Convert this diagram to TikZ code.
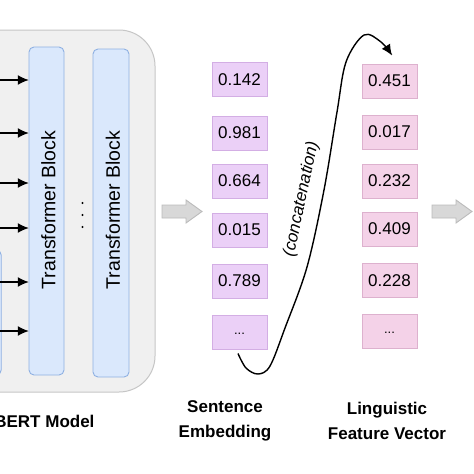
\documentclass[tikz,border=0pt]{standalone}
\usepackage{fontspec}
\setmainfont{Liberation Sans}
\usetikzlibrary{arrows.meta}
\definecolor{contfill}{HTML}{F0F0F0}
\definecolor{contdraw}{HTML}{C6C6C6}
\definecolor{blkfill}{HTML}{DAE8FC}
\definecolor{blkdraw}{HTML}{8EB0E2}
\definecolor{sefill}{HTML}{EBD0F7}
\definecolor{sedraw}{HTML}{D3AEE4}
\definecolor{lffill}{HTML}{F4D2E8}
\definecolor{lfdraw}{HTML}{DDB1CE}
\definecolor{garfill}{HTML}{D8D8D8}
\definecolor{gardraw}{HTML}{BBBBBB}
\tikzset{
  tblock/.style={draw=blkdraw, fill=blkfill, line width=0.9pt, rounded corners=5pt},
  sebox/.style={draw=sedraw, fill=sefill, line width=1pt, minimum width=55pt, minimum height=34pt, inner sep=0pt, font=\fontsize{17}{20}\selectfont},
  lfbox/.style={draw=lfdraw, fill=lffill, line width=1pt, minimum width=55pt, minimum height=34pt, inner sep=0pt, font=\fontsize{17}{20}\selectfont},
  blocklabel/.style={rotate=90, font=\fontsize{19.5}{22}\selectfont},
  caption/.style={font=\fontsize{17}{25}\selectfont\bfseries, align=center},
  inarrow/.style={-{Latex[length=11pt,width=10pt]}, line width=1.4pt, black},
  garrow/.style={draw=gardraw, fill=garfill, line width=0.9pt, line join=miter}
}
\begin{document}
\begin{tikzpicture}[x=1pt,y=-1pt]
\useasboundingbox (0,0) rectangle (474,474);
\fill[white] (0,0) rectangle (474,474);
% container
\draw[draw=contdraw, fill=contfill, line width=1pt, rounded corners=36pt] (-60,30) rectangle (155,392);
% partially visible blue block at left edge
\draw[tblock] (-40,250) rectangle (1.2,375);
% transformer blocks
\draw[tblock] (29,47) rectangle (64,375);
\node[inner sep=0pt, minimum width=35pt, minimum height=328pt] (tb1) at (46.5,211) {};
\draw[tblock] (93,49) rectangle (129,377);
\node[inner sep=0pt, minimum width=36pt, minimum height=328pt] (tb2) at (111,213) {};
\node[blocklabel] (tl1) at (48.5,210) {Transformer Block};
\node[blocklabel] (tl2) at (113,210) {Transformer Block};
% vertical dots
\foreach \yy in {203,215,227} \fill (82.5,\yy) circle (1.2pt);
% input arrows
\foreach \yy [count=\i] in {80,133,183,228,282,331} {
  \coordinate (in\i) at (-4,\yy);
  \draw[inarrow] (in\i) -- (in\i -| tb1.west);
}
\node[caption, anchor=east] (bert) at (98,421) {BERT Model};
% gray block arrows
\coordinate (ga1) at (162,211.5);
\coordinate (ga2) at (432,211.5);
\foreach \g in {ga1,ga2}
  \draw[garrow] (\g) ++(0,-6.5) -- ++(24,0) -- ++(0,-5) -- ++(16,11.5) -- ++(-16,11.5) -- ++(0,-5) -- ++(-24,0) -- cycle;
% sentence embedding
\node[sebox] (e1) at (239.5,79.5) {0.142};
\node[sebox] (e2) at (239.5,133) {0.981};
\node[sebox] (e3) at (239.5,181) {0.664};
\node[sebox] (e4) at (239.5,230) {0.015};
\node[sebox] (e5) at (239.5,281) {0.789};
\node[sebox] (e6) at (239.5,332) {\raisebox{-4pt}{\fontsize{13}{15}\selectfont...}};
% linguistic features
\node[lfbox] (l1) at (389.5,81) {0.451};
\node[lfbox] (l2) at (389.5,132) {0.017};
\node[lfbox] (l3) at (389.5,181) {0.232};
\node[lfbox] (l4) at (389.5,229) {0.409};
\node[lfbox] (l5) at (389.5,280.5) {0.228};
\node[lfbox] (l6) at (389.5,331.5) {\raisebox{-4pt}{\fontsize{13}{15}\selectfont...}};
% captions
\node[caption] (cse) at (225,421) {Sentence\\Embedding};
\node[caption] (clf) at (387,421) {Linguistic\\Feature Vector};
% concatenation curve
\draw[line width=1.4pt, -{Latex[length=11pt,width=10pt]}]
  plot[smooth, tension=0.55] coordinates {
    ([xshift=-1.5pt,yshift=-4pt]e6.south) (246,368) (258,374) (270,366) (285,328)
    (307,267) (324,190) (337,112) (346,62) (364,35) (381,42)
    ([xshift=2.5pt,yshift=8pt]l1.north)};
\node[rotate=78, font=\fontsize{17}{20}\selectfont\itshape] (concat) at (301.5,199) {(concatenation)};
\end{tikzpicture}
\end{document}
